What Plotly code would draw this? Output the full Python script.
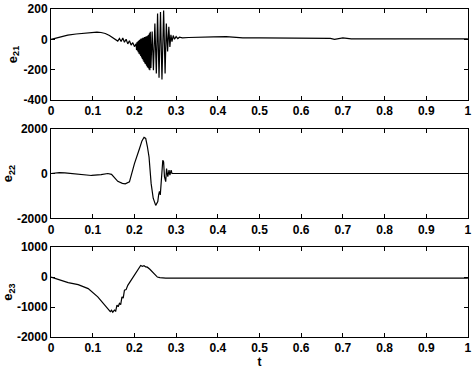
import plotly.graph_objects as go

# ---------------- data ----------------
t21 = [0.0, 0.02, 0.04, 0.06, 0.08, 0.10, 0.11, 0.12, 0.13, 0.14, 0.15, 0.155,
       0.16, 0.164, 0.168, 0.172, 0.176, 0.18, 0.184, 0.188, 0.192, 0.196, 0.200,
       0.204, 0.205, 0.206, 0.207, 0.208, 0.209, 0.210, 0.211, 0.212, 0.213, 0.214,
       0.215, 0.216, 0.217, 0.218, 0.219, 0.220, 0.221, 0.222, 0.223, 0.224, 0.225,
       0.226, 0.227, 0.228, 0.229, 0.230, 0.231, 0.232, 0.233, 0.234, 0.235, 0.236,
       0.237, 0.238, 0.2395,
       0.2425, 0.2455, 0.2490, 0.2525, 0.2555, 0.2590, 0.2625, 0.2660, 0.2700,
       0.2735, 0.2765, 0.2795, 0.2825, 0.2850, 0.2875, 0.2900, 0.2930, 0.2960,
       0.3000, 0.3040, 0.3080, 0.3150, 0.33, 0.36, 0.39, 0.42, 0.44, 0.46, 0.50,
       0.55, 0.60, 0.65, 0.67, 0.68, 0.69, 0.70, 0.71, 0.72, 0.75, 0.80, 0.85,
       0.90, 0.95, 1.0]
e21 = [0, 15, 28, 35, 40, 46, 48, 45, 38, 25, 8, -5,
       -12, 5, -15, 8, -20, 0, -30, -10, -38, -22, -48,
       -30, -70, -20, -75, -15, -85, -10, -95, -5, -100, 0,
       -110, 5, -120, 5, -130, 10, -140, 10, -150, 15, -160,
       15, -165, 20, -175, 20, -185, 25, -190, 30, -200, 40,
       -205, 50, -190,
       52, -205, 104, -225, 170, -254, 180, -265, 190,
       -225, 104, -80, 82, -50, 30, -15, 25, 0,
       18, 5, 14, 10, 12, 12, 16, 17, 14, 10, 10,
       10, 10, 9, 6, 0, 4, 9, 6, 3, 3, 3, 3,
       3, 3, 3]

t22 = [0.0, 0.02, 0.033, 0.06, 0.08, 0.097, 0.12, 0.136, 0.145, 0.152, 0.16,
       0.171, 0.178, 0.188, 0.200, 0.212, 0.218, 0.223, 0.227, 0.231, 0.235,
       0.240, 0.245, 0.251, 0.256, 0.258, 0.260, 0.262, 0.264, 0.268, 0.270,
       0.272, 0.275, 0.277, 0.280, 0.283, 0.285, 0.288, 0.290, 0.297, 0.31,
       0.4, 0.5, 0.6, 0.7, 0.8, 0.9, 1.0]
e22 = [0, 40, 30, -20, -60, -88, -50, 0, -40, -200, -350,
       -440, -460, -370, 440, 1100, 1450, 1610, 1560, 1200, 735,
       -440, -1100, -1420, -1245, -950, -800, -950, -290, 590, 515,
       -145, -365, 220, -145, 150, -74, 150, 0, 0, 0,
       0, 0, 0, 0, 0, 0, 0]

t23 = [0.0, 0.02, 0.041, 0.065, 0.089, 0.112, 0.125, 0.132, 0.138, 0.142,
       0.145, 0.148, 0.152, 0.155, 0.158, 0.161, 0.164, 0.167, 0.170, 0.173,
       0.176, 0.180, 0.184, 0.190, 0.196, 0.202, 0.208, 0.212, 0.215, 0.219,
       0.223, 0.227, 0.231, 0.237, 0.243, 0.249, 0.255, 0.261, 0.267, 0.275,
       0.3, 0.4, 0.5, 0.6, 0.7, 0.8, 0.9, 1.0]
e23 = [0, -100, -186, -253, -385, -660, -880, -1023, -1100, -1155,
       -1110, -1170, -1100, -1135, -935, -990, -880, -920, -660, -700,
       -440, -420, -275, -150, 0, 100, 220, 300, 385, 360,
       380, 340, 330, 260, 165, 80, 0, -20, -28, -32,
       -32, -32, -32, -32, -32, -32, -32, -32]

x_ticks = [0, 0.1, 0.2, 0.3, 0.4, 0.5, 0.6, 0.7, 0.8, 0.9, 1]
x_ticktext = ["0", "0.1", "0.2", "0.3", "0.4", "0.5", "0.6", "0.7", "0.8", "0.9", "1"]
y1_ticks = [-400, -200, 0, 200]
y2_ticks = [-2000, 0, 2000]
y3_ticks = [-2000, -1000, 0, 1000]

# ---------------- figure ----------------
line = dict(color="black", width=1.2)
fig = go.Figure()
fig.add_trace(go.Scatter(x=t21, y=e21, mode="lines", line=line, xaxis="x", yaxis="y"))
fig.add_trace(go.Scatter(x=t22, y=e22, mode="lines", line=line, xaxis="x2", yaxis="y2"))
fig.add_trace(go.Scatter(x=t23, y=e23, mode="lines", line=line, xaxis="x3", yaxis="y3"))

font = dict(family="Liberation Sans, Arial, sans-serif", size=12, color="black", weight="bold")
tfont = dict(family="Liberation Sans, Arial, sans-serif", size=13, color="black", weight="bold")

def xax(anchor):
    return dict(range=[-0.0002, 1.0002], tickvals=x_ticks, ticktext=x_ticktext, ticks="inside",
                ticklen=4, tickcolor="black", mirror="ticks", showline=True,
                linecolor="black", linewidth=1, showgrid=False, zeroline=False,
                tickfont=font, anchor=anchor, domain=[0, 1], ticklabeloverflow="allow")

def yax(rng, vals, dom, anchor, title):
    return dict(range=rng, tickvals=vals, ticktext=[str(v) for v in vals], ticks="inside",
                ticklen=4, tickcolor="black", mirror="ticks", showline=True,
                linecolor="black", linewidth=1, showgrid=False, zeroline=False,
                tickfont=font, anchor=anchor, domain=dom,
                title=dict(text=title, font=tfont, standoff=3))

H = 332.0
fig.update_layout(
    width=474, height=370,
    margin=dict(l=51, r=2, t=5, b=33),
    plot_bgcolor="white", paper_bgcolor="white",
    showlegend=False,
    xaxis=xax("y"),
    xaxis2=xax("y2"),
    xaxis3=dict(xax("y3"), title=dict(text="t", font=font, standoff=2)),
    yaxis=yax([-400, 200], y1_ticks, [(337 - 97) / H, 1.0], "x", "e<sub>21</sub>"),
    yaxis2=yax([-2000, 2000], y2_ticks, [(337 - 217) / H, (337 - 126) / H], "x2", "e<sub>22</sub>"),
    yaxis3=yax([-2000, 1000], y3_ticks, [0, (337 - 246) / H], "x3", "e<sub>23</sub>"),
)

fig.write_html("out.html")
